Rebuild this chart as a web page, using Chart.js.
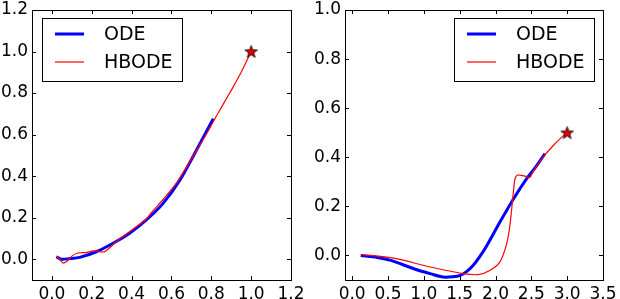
<!DOCTYPE html>
<html>
<head>
<meta charset="utf-8">
<script src="https://cdn.jsdelivr.net/npm/chart.js@4.4.1/dist/chart.umd.min.js"></script>
<style>
  html, body { margin: 0; padding: 0; background: #fff; }
  .panel { position: absolute; top: 0; width: 310px; height: 299px; }
  #left { left: 0; }
  #right { left: 310px; }
</style>
</head>
<body>
<div class="panel" id="left"><canvas id="chart_left" width="310" height="299"></canvas></div>
<div class="panel" id="right"><canvas id="chart_right" width="310" height="299"></canvas></div>
<script>
// left panel
const leftOde = [[0.022,0.012],[0.047,0.0],[0.09,0.003],[0.139,0.009],[0.223,0.036],[0.307,0.077],[0.39,0.125],[0.474,0.189],[0.558,0.269],[0.642,0.381],[0.726,0.526],[0.81,0.677]];
const leftHbode = [[0.025,0.015],[0.04,0.0],[0.055,-0.018],[0.075,-0.01],[0.1,0.015],[0.13,0.03],[0.17,0.032],[0.21,0.04],[0.26,0.035],[0.29,0.055],[0.33,0.09],[0.4,0.14],[0.47,0.19],[0.5,0.225],[0.56,0.29],[0.62,0.36],[0.68,0.45],[0.73,0.53],[0.78,0.61],[0.82,0.68],[0.85,0.73],[0.88,0.78],[0.91,0.83],[0.95,0.9],[0.975,0.95],[1.0,1.0]];
const leftTarget = [[1.0,1.0]];
const leftXTicks = [0.0,0.2,0.4,0.6,0.8,1.0,1.2];
const leftYTicks = [0.0,0.2,0.4,0.6,0.8,1.0,1.2];

// right panel
const rightOde = [[0.12,0.0],[0.35,-0.008],[0.54,-0.02],[0.86,-0.054],[1.1,-0.075],[1.27,-0.088],[1.4,-0.087],[1.51,-0.081],[1.6,-0.065],[1.69,-0.04],[1.78,-0.005],[1.88,0.041],[2.06,0.135],[2.25,0.23],[2.43,0.311],[2.56,0.36],[2.69,0.415]];
const rightHbode = [[0.12,0.004],[0.58,-0.011],[1.09,-0.047],[1.55,-0.074],[1.76,-0.078],[1.92,-0.061],[2.06,-0.027],[2.15,0.041],[2.2,0.12],[2.24,0.23],[2.27,0.31],[2.3,0.327],[2.34,0.327],[2.43,0.322],[2.48,0.318],[2.53,0.345],[2.66,0.399],[2.8,0.446],[2.94,0.486],[3.0,0.5]];
const rightTarget = [[3.0,0.5]];
const rightXTicks = [0.0,0.5,1.0,1.5,2.0,2.5,3.0,3.5];
const rightYTicks = [0.0,0.2,0.4,0.6,0.8,1.0];

const seriesNames = ['ODE', 'HBODE'];
const seriesColors = ['#0000ff', '#ff0000'];
const FONT = "'DejaVu Sans', sans-serif";

const toPts = arr => arr.map(([x, y]) => ({ x, y }));

// filled red star with black edge, like matplotlib's '*' marker
const starImg = (() => {
  let c = document.createElement('canvas');
  c.width = 15; c.height = 15;
  let g = c.getContext('2d');
  g.beginPath();
  for (let i = 0; i < 10; i++) {
    let r = i % 2 === 0 ? 6.6 : 2.7;
    let a = -Math.PI / 2 + i * Math.PI / 5;
    let px = 7.5 + r * Math.cos(a), py = 8 + r * Math.sin(a);
    i === 0 ? g.moveTo(px, py) : g.lineTo(px, py);
  }
  g.closePath();
  g.fillStyle = '#e00000';
  g.fill();
  g.lineWidth = 0.8;
  g.strokeStyle = '#000';
  g.stroke();
  return c;
})();

// frame, inward ticks on all sides, and the boxed legend inside the axes
const mplAxes = {
  id: 'mplAxes',
  afterDraw(chart, args, opts) {
    let { ctx, chartArea: a, scales } = chart;
    ctx.save();
    ctx.strokeStyle = '#000';
    ctx.lineWidth = 1;
    ctx.beginPath();
    scales.x.ticks.forEach(t => {
      let px = Math.round(scales.x.getPixelForValue(t.value)) + 0.5;
      ctx.moveTo(px, a.bottom); ctx.lineTo(px, a.bottom - 4);
      ctx.moveTo(px, a.top); ctx.lineTo(px, a.top + 4);
    });
    scales.y.ticks.forEach(t => {
      let py = Math.round(scales.y.getPixelForValue(t.value)) + 0.5;
      ctx.moveTo(a.left, py); ctx.lineTo(a.left + 4, py);
      ctx.moveTo(a.right, py); ctx.lineTo(a.right - 4, py);
    });
    ctx.stroke();
    ctx.strokeRect(Math.round(a.left) + 0.5, Math.round(a.top) + 0.5,
                   Math.round(a.right - a.left), Math.round(a.bottom - a.top));

    let b = opts.box;
    ctx.fillStyle = '#fff';
    ctx.fillRect(b.x, b.y, b.w, b.h);
    ctx.strokeRect(b.x + 0.5, b.y + 0.5, b.w, b.h);
    seriesNames.forEach((name, i) => {
      let ly = b.y + 16 + i * 28;
      ctx.strokeStyle = seriesColors[i];
      ctx.lineWidth = i === 0 ? 3 : 1.2;
      ctx.beginPath();
      ctx.moveTo(b.x + 13, ly); ctx.lineTo(b.x + 42, ly);
      ctx.stroke();
      ctx.fillStyle = '#000';
      ctx.font = '19px ' + FONT;
      ctx.textBaseline = 'middle';
      ctx.fillText(name, b.x + 62, ly + 1);
    });
    ctx.restore();
  }
};

const makeChart = (id, ode, hbode, target, xr, yr, xTicks, yTicks, yWidth, rightPad, box) => {
  let type = 'scatter';
  let data = {
    datasets: [
      { data: toPts(target), pointStyle: starImg, pointRadius: 7, showLine: false, order: 0 },
      { data: toPts(hbode), showLine: true, borderColor: seriesColors[1], borderWidth: 1.2,
        pointRadius: 0, tension: 0.25, order: 1 },
      { data: toPts(ode), showLine: true, borderColor: seriesColors[0], borderWidth: 3,
        pointRadius: 0, tension: 0.3, order: 2 }
    ]
  };
  let tickOpts = () => ({
    font: { family: FONT, size: 17 },
    color: '#000',
    padding: 4,
    callback: v => v.toFixed(1)
  });
  let options = {
    animation: false,
    responsive: false,
    events: [],
    layout: { padding: { top: 10, right: rightPad, left: 0, bottom: 0 } },
    plugins: { legend: { display: false }, tooltip: { enabled: false }, mplAxes: { box } },
    scales: {
      x: {
        type: 'linear', min: xr[0], max: xr[1],
        grid: { display: false, drawTicks: false }, border: { display: false },
        ticks: tickOpts(),
        afterBuildTicks: s => { s.ticks = xTicks.map(value => ({ value })); },
        afterFit: s => { s.height = 19; s.paddingLeft = 0; s.paddingRight = 0; }
      },
      y: {
        type: 'linear', min: yr[0], max: yr[1],
        grid: { display: false, drawTicks: false }, border: { display: false },
        ticks: tickOpts(),
        afterBuildTicks: s => { s.ticks = yTicks.map(value => ({ value })); },
        afterFit: s => { s.width = yWidth; s.paddingTop = 0; s.paddingBottom = 0; }
      }
    }
  };
  return new Chart(id, { type, data, options, plugins: [mplAxes] });
};

makeChart('chart_left', leftOde, leftHbode, leftTarget, [-0.1, 1.2], [-0.1, 1.2],
  leftXTicks, leftYTicks, 32, 19, { x: 42, y: 18, w: 140, h: 63 });
makeChart('chart_right', rightOde, rightHbode, rightTarget, [-0.1, 3.5], [-0.1, 1.0],
  rightXTicks, rightYTicks, 35, 17, { x: 144, y: 18, w: 140, h: 63 });
</script>
</body>
</html>
